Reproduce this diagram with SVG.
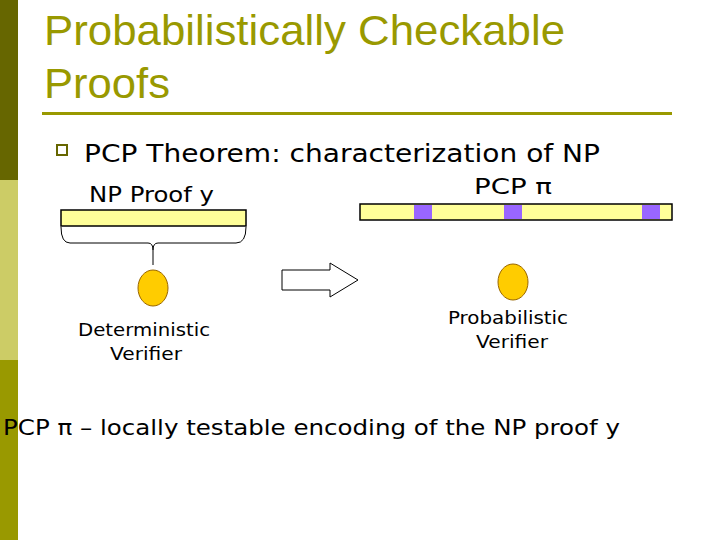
<svg xmlns="http://www.w3.org/2000/svg" width="720" height="540" viewBox="0 0 720 540">
<style>
text{font-family:"DejaVu Sans","Liberation Sans",sans-serif;fill:#000}
.t{font-family:"Liberation Sans",Arial,sans-serif;fill:#999900;font-size:43px}
.bar{fill:#ffff99;stroke:#000;stroke-width:1.5}
.sel{fill:#9966ff}
.ver{fill:#ffcc00;stroke:#996600;stroke-width:1}
</style>
<rect width="720" height="540" fill="#fff"/>
<rect x="0" y="0" width="18" height="180" fill="#666600"/>
<rect x="0" y="180" width="18" height="180" fill="#cccc66"/>
<rect x="0" y="360" width="18" height="180" fill="#999900"/>
<text class="t" x="44" y="45" textLength="521" lengthAdjust="spacingAndGlyphs">Probabilistically Checkable</text>
<text class="t" x="44" y="98" textLength="126" lengthAdjust="spacingAndGlyphs">Proofs</text>
<rect x="42" y="112" width="630" height="3" fill="#999900"/>
<rect x="57" y="145" width="10" height="10" fill="none" stroke="#666600" stroke-width="2"/>
<text x="84" y="162" font-size="25" textLength="516" lengthAdjust="spacingAndGlyphs">PCP Theorem: characterization of NP</text>
<g id="np">
<text x="89" y="202" font-size="21" textLength="125" lengthAdjust="spacingAndGlyphs">NP Proof y</text>
<rect class="bar" x="61" y="210" width="185" height="16"/>
<path d="M61,227 Q61,243 70,243 L148,243 Q153,243 153,250 L153,265 M153,250 Q153,243 158,243 L236,243 Q246,243 246,227" fill="none" stroke="#000" stroke-width="1"/>
</g>
<g id="dv">
<ellipse class="ver" cx="153" cy="288" rx="15" ry="18"/>
<text x="144" y="336" font-size="18" text-anchor="middle" textLength="132" lengthAdjust="spacingAndGlyphs">Deterministic</text>
<text x="146" y="360" font-size="18" text-anchor="middle" textLength="72" lengthAdjust="spacingAndGlyphs">Verifier</text>
</g>
<g id="pcp">
<text x="474" y="194" font-size="21" textLength="78" lengthAdjust="spacingAndGlyphs">PCP  π</text>
<rect class="bar" x="360" y="204" width="312" height="16"/>
<rect class="sel" x="414" y="205" width="18" height="14"/>
<rect class="sel" x="504" y="205" width="18" height="14"/>
<rect class="sel" x="642" y="205" width="18" height="14"/>
</g>
<g id="pv">
<ellipse class="ver" cx="513" cy="282" rx="15" ry="18"/>
<text x="508" y="324" font-size="18" text-anchor="middle" textLength="120" lengthAdjust="spacingAndGlyphs">Probabilistic</text>
<text x="512" y="348" font-size="18" text-anchor="middle" textLength="72" lengthAdjust="spacingAndGlyphs">Verifier</text>
</g>
<g id="connectors">
<path d="M282,270 L330,270 L330,263 L358,280 L330,297 L330,290 L282,290 Z" fill="#fff" stroke="#000" stroke-width="1"/>
</g>
<text x="3" y="435" font-size="21" textLength="617" lengthAdjust="spacingAndGlyphs">PCP  π – locally testable encoding of the NP proof y</text>
</svg>
